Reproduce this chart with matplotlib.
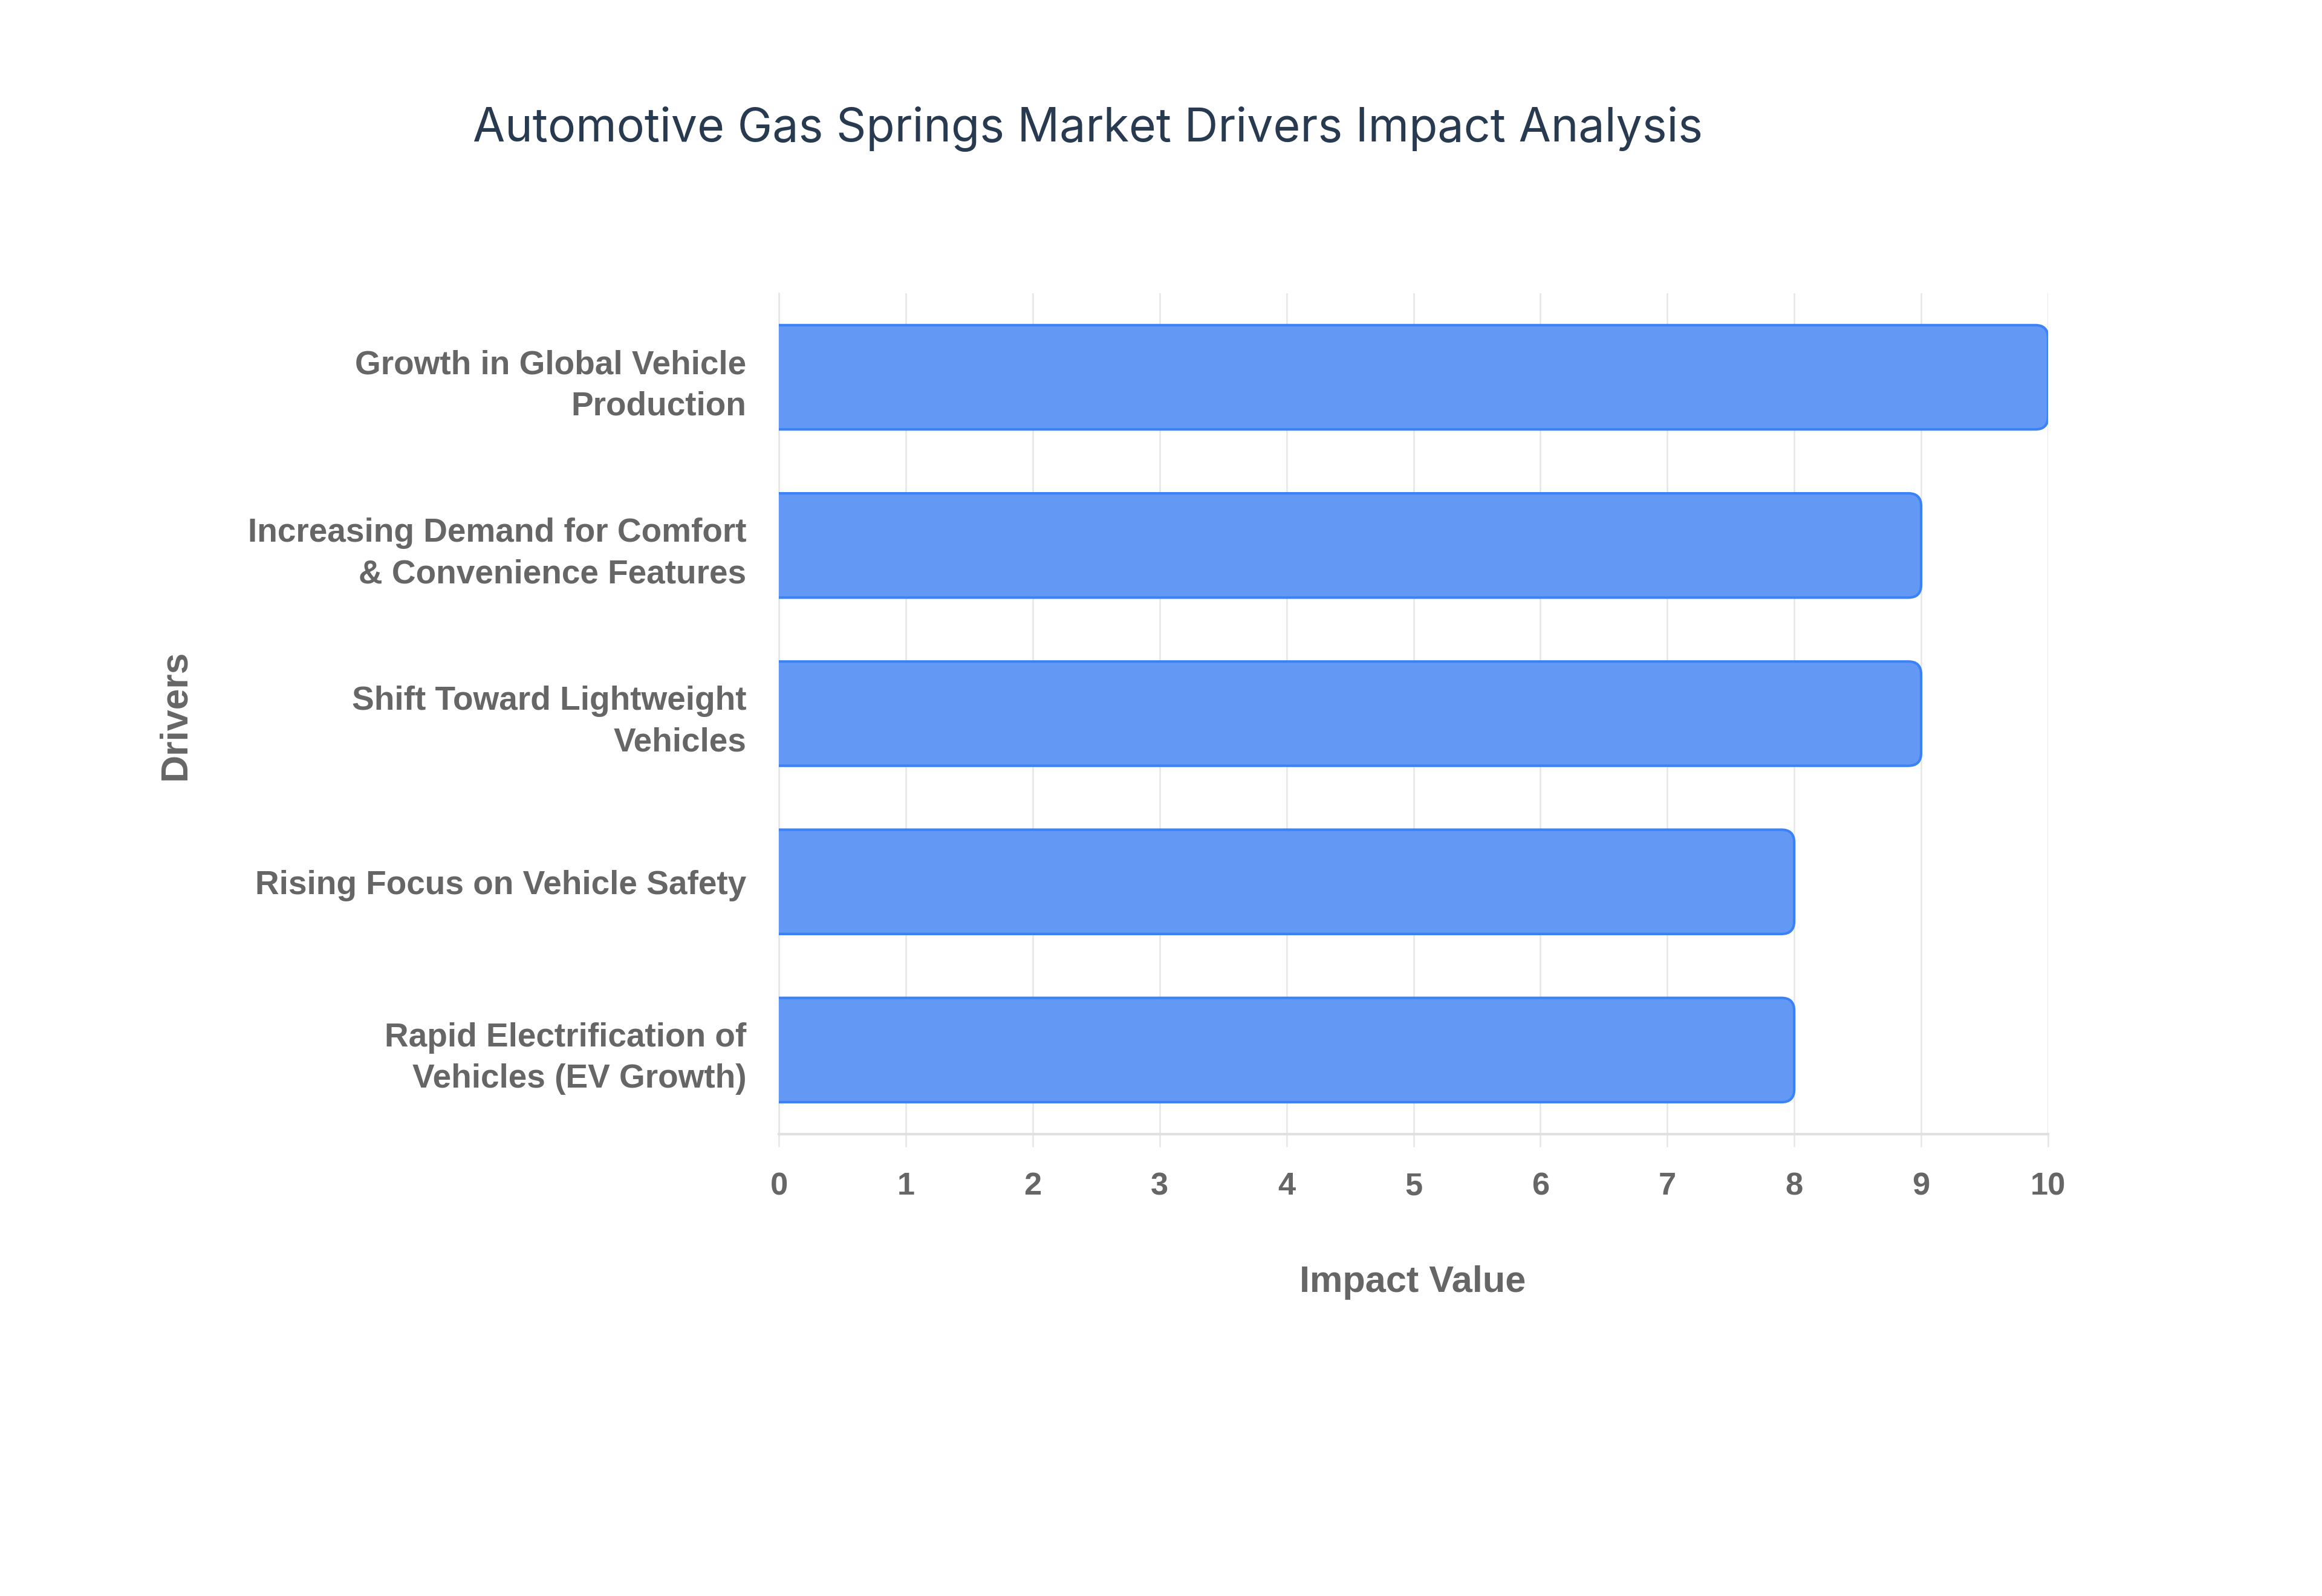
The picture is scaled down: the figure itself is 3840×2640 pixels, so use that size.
import matplotlib
matplotlib.use("Agg")
from matplotlib import pyplot as plt
from matplotlib.patches import FancyBboxPatch

drivers = [
    "Growth in Global Vehicle\nProduction",
    "Increasing Demand for Comfort\n& Convenience Features",
    "Shift Toward Lightweight\nVehicles",
    "Rising Focus on Vehicle Safety",
    "Rapid Electrification of\nVehicles (EV Growth)",
]
impact = [10, 9, 9, 8, 8]
x_ticks = [0, 1, 2, 3, 4, 5, 6, 7, 8, 9, 10]

fill_color = "#6399f4"
edge_color = "#3b82f6"
text_gray = "#666666"
grid_color = "#e6e6e6"

fig = plt.figure(figsize=(12.8, 8.8), dpi=300)
ax = fig.add_axes([0.3355, 0.2894, 0.5465, 0.5269])

pos = list(range(len(drivers)))
bars = ax.barh(pos, impact, height=0.62, color=fill_color)
ax.set_ylim(len(drivers) - 0.5, -0.5)
ax.set_xlim(0, 10)

# swap the plain bars for ones with rounded right ends
r = 0.1
for b in bars:
    x0, y0 = b.get_x(), b.get_y()
    w, h = b.get_width(), b.get_height()
    b.set_visible(False)
    p = FancyBboxPatch((x0 - 0.3, y0), w + 0.3, h,
                       boxstyle="round,pad=0,rounding_size=%g" % r,
                       mutation_aspect=0.755,
                       facecolor=fill_color, edgecolor=edge_color,
                       linewidth=1.0, zorder=3, clip_on=True)
    ax.add_patch(p)

ax.set_xticks(x_ticks)
ax.set_yticks(pos)
ax.set_yticklabels(drivers, fontsize=13.2, fontweight="bold", color=text_gray,
                   family="Liberation Sans", linespacing=1.4)
for lab in ax.get_xticklabels():
    lab.set_fontsize(12.6)
    lab.set_fontweight("bold")
    lab.set_color(text_gray)
    lab.set_family("Liberation Sans")

ax.tick_params(axis="y", length=0, pad=13)
ax.tick_params(axis="x", length=5, color=grid_color, width=0.6, pad=10)

ax.grid(axis="x", color=grid_color, linewidth=0.6, zorder=0)
ax.set_axisbelow(True)
for s in ["top", "right"]:
    ax.spines[s].set_visible(False)
ax.spines["left"].set_color(grid_color)
ax.spines["left"].set_linewidth(0.6)
ax.spines["bottom"].set_color("#e0e0e0")
ax.spines["bottom"].set_linewidth(1.0)

fig.text(0.6085, 0.1965, "Impact Value", ha="center", va="center",
         fontsize=14.7, fontweight="bold", color=text_gray, family="Liberation Sans")
fig.text(0.0755, 0.552, "Drivers", ha="center", va="center", rotation=90,
         fontsize=15, fontweight="bold", color=text_gray, family="Liberation Sans")
fig.text(0.4684, 0.919, "Automotive Gas Springs Market Drivers Impact Analysis",
         ha="center", va="center", fontsize=18.5, color="#283a50", family="Inter")

fig.savefig("out.png", dpi=300, facecolor="white")
